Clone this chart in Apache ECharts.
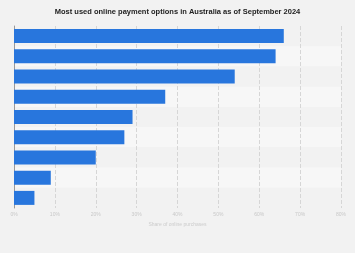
<!DOCTYPE html>
<html>
<head>
<meta charset="utf-8">
<script src="https://cdn.jsdelivr.net/npm/echarts@6/dist/echarts.min.js"></script>
<style>
  html, body { margin: 0; padding: 0; background: #f2f2f2; }
  #chart { width: 355px; height: 253px; }
</style>
</head>
<body>
<div id="chart"></div>
<script>
// payment option names are not shown in the picture
var categories = ['Option 1', 'Option 2', 'Option 3', 'Option 4', 'Option 5', 'Option 6', 'Option 7', 'Option 8', 'Option 9'];
var shares = [66, 64, 54, 37, 29, 27, 20, 9, 5];
var tickLabels = ['0%', '10%', '20%', '30%', '40%', '50%', '60%', '70%', '80%'];

var myChart = echarts.init(document.getElementById('chart'));

var option = {
    backgroundColor: '#f2f2f2',
    title: {
        text: 'Most used online payment options in Australia as of September 2024',
        left: 'center',
        top: 3,
        textStyle: {fontFamily: 'Liberation Sans', fontSize: 7.5, fontWeight: 'bold', color: '#222'}
    },
    grid: {left: 14, right: 14, top: 26, bottom: 45, containLabel: false},
    xAxis: {
        type: 'value',
        min: 0,
        max: 80,
        interval: 10,
        name: 'Share of online purchases',
        nameLocation: 'middle',
        nameGap: 13,
        nameTextStyle: {fontFamily: 'Liberation Sans', fontSize: 5, color: '#ccc'},
        axisLine: {show: false},
        axisTick: {show: false},
        axisLabel: {
            fontFamily: 'Liberation Sans', fontSize: 5, color: '#c8c8c8', margin: 4,
            formatter: function (v) { return tickLabels[v / 10]; }
        },
        splitLine: {show: true, lineStyle: {color: '#d6d6d6', type: [4, 2], width: 1}}
    },
    yAxis: {
        type: 'category',
        inverse: true,
        data: categories,
        axisLine: {show: true, lineStyle: {color: '#999', width: 1}},
        axisTick: {show: false},
        axisLabel: {show: false},
        splitArea: {show: true, areaStyle: {color: ['#f2f2f2', '#f7f7f7']}}
    },
    series: [{
        name: 'Share',
        type: 'bar',
        data: shares,
        barWidth: 14,
        itemStyle: {color: '#2876dd'}
    }]
};

myChart.setOption(option);
</script>
</body>
</html>
